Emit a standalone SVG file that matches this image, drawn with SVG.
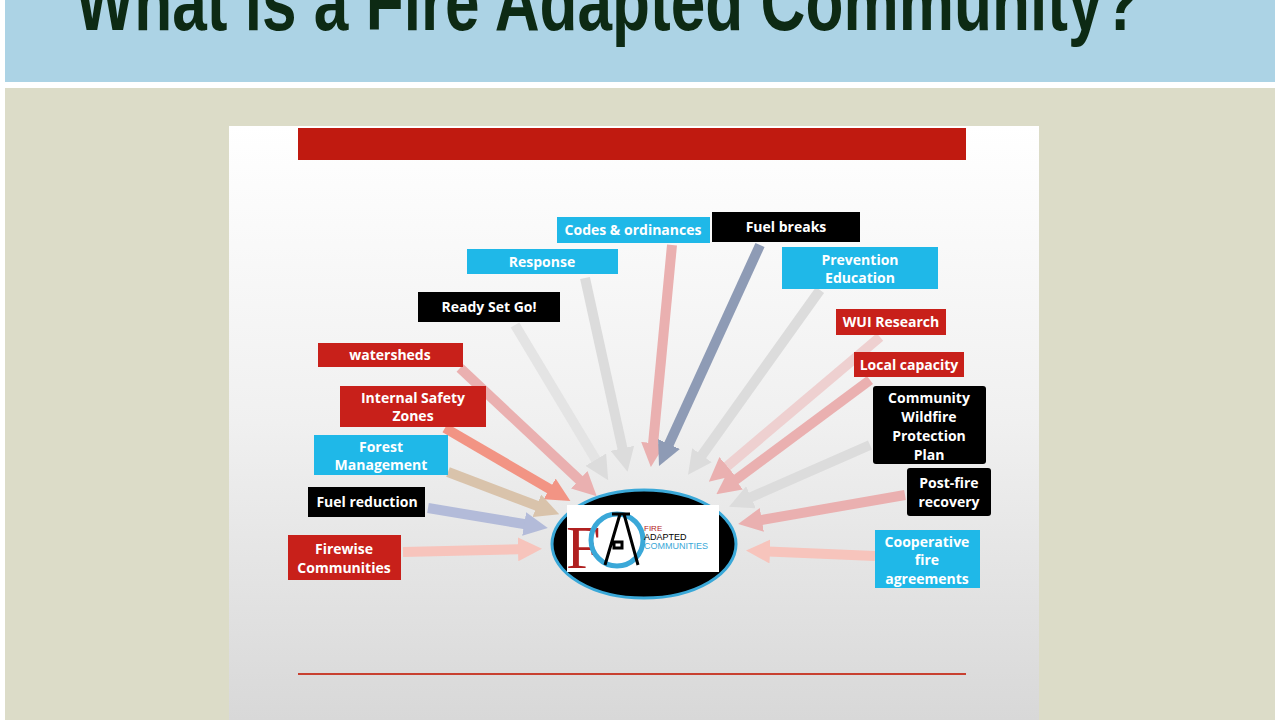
<svg xmlns="http://www.w3.org/2000/svg" width="1280" height="720" viewBox="0 0 1280 720">
<defs>
<linearGradient id="pg" x1="0" y1="0" x2="0" y2="1"><stop offset="0" stop-color="#ffffff"/><stop offset="0.5" stop-color="#f0f0f0"/><stop offset="1" stop-color="#d8d8d8"/></linearGradient>
<marker id="m1" viewBox="0 0 10 10" refX="5" refY="5" markerWidth="2.4" markerHeight="2.4" orient="auto"><path d="M0,0L10,5L0,10z" fill="#eab0b0"/></marker>
<marker id="m2" viewBox="0 0 10 10" refX="5" refY="5" markerWidth="2.4" markerHeight="2.4" orient="auto"><path d="M0,0L10,5L0,10z" fill="#8e9bb5"/></marker>
<marker id="m3" viewBox="0 0 10 10" refX="5" refY="5" markerWidth="2.4" markerHeight="2.4" orient="auto"><path d="M0,0L10,5L0,10z" fill="#dcdcdc"/></marker>
<marker id="m4" viewBox="0 0 10 10" refX="5" refY="5" markerWidth="2.4" markerHeight="2.4" orient="auto"><path d="M0,0L10,5L0,10z" fill="#f29484"/></marker>
<marker id="m5" viewBox="0 0 10 10" refX="5" refY="5" markerWidth="2.4" markerHeight="2.4" orient="auto"><path d="M0,0L10,5L0,10z" fill="#d9c3ab"/></marker>
<marker id="m6" viewBox="0 0 10 10" refX="5" refY="5" markerWidth="2.4" markerHeight="2.4" orient="auto"><path d="M0,0L10,5L0,10z" fill="#b3bbd9"/></marker>
<marker id="m7" viewBox="0 0 10 10" refX="5" refY="5" markerWidth="2.4" markerHeight="2.4" orient="auto"><path d="M0,0L10,5L0,10z" fill="#f7c4bc"/></marker>
</defs>
<style>
.t{font-family:"Open Sans","Liberation Sans",sans-serif;font-weight:bold;font-size:14px;fill:#fff;text-anchor:middle}
.cy{fill:#1fb8e8}.bk{fill:#000}.rd{fill:#c8201a}
.a{stroke-width:10;fill:none}
</style>
<rect width="1280" height="720" fill="#ffffff"/>
<rect x="5" y="0" width="1270" height="82" fill="#acd3e5"/>
<rect x="5" y="88" width="1270" height="632" fill="#dcdcc8"/>
<text x="608" y="30" font-family="'Liberation Sans',sans-serif" font-weight="bold" font-size="82" fill="#0d2a14" text-anchor="middle" textLength="1065" lengthAdjust="spacingAndGlyphs">What is a Fire Adapted Community?</text>
<rect x="229" y="126" width="810" height="594" fill="url(#pg)"/>
<rect x="298" y="128" width="668" height="32" fill="#c01a10"/>
<rect x="298" y="673" width="668" height="2" fill="#c84030"/>
<g id="connectors">
<line class="a" x1="672" y1="245" x2="652" y2="455" stroke="#eab0b0" marker-end="url(#m1)"/>
<line class="a" x1="760" y1="245" x2="664" y2="455" stroke="#8e9bb5" marker-end="url(#m2)"/>
<line class="a" x1="585" y1="278" x2="625" y2="460" stroke="#dcdcdc" marker-end="url(#m3)"/>
<line class="a" x1="820" y1="290" x2="695" y2="465" stroke="#dcdcdc" marker-end="url(#m3)"/>
<line class="a" x1="515" y1="325" x2="602" y2="470" stroke="#e4e4e4" marker-end="url(#m3)"/>
<line class="a" x1="880" y1="337" x2="718" y2="474" stroke="#eed0d0" marker-end="url(#m1)"/>
<line class="a" x1="460" y1="368" x2="588" y2="488" stroke="#eab0b0" marker-end="url(#m1)"/>
<line class="a" x1="870" y1="380" x2="726" y2="487" stroke="#eab0b0" marker-end="url(#m1)"/>
<line class="a" x1="445" y1="428" x2="560" y2="495" stroke="#f29484" marker-end="url(#m4)"/>
<line class="a" x1="870" y1="445" x2="740" y2="502" stroke="#dcdcdc" marker-end="url(#m3)"/>
<line class="a" x1="448" y1="472" x2="548" y2="510" stroke="#d9c3ab" marker-end="url(#m5)"/>
<line class="a" x1="905" y1="495" x2="750" y2="522" stroke="#eab0b0" marker-end="url(#m1)"/>
<line class="a" x1="428" y1="508" x2="536" y2="526" stroke="#b3bbd9" marker-end="url(#m6)"/>
<line class="a" x1="403" y1="552" x2="530" y2="549" stroke="#f7c4bc" marker-end="url(#m7)"/>
<line class="a" x1="875" y1="556" x2="758" y2="551" stroke="#f7c4bc" marker-end="url(#m7)"/>
</g>
<g id="center">
<ellipse cx="644" cy="544" rx="92" ry="54" fill="#000" stroke="#3aa8d8" stroke-width="3"/>
<rect x="567" y="505" width="152" height="67" fill="#fff"/>
<text x="566" y="568" font-family="'Liberation Serif',serif" font-size="62" fill="#b02020">F</text>
<circle cx="617" cy="540" r="26" fill="none" stroke="#3aa8d8" stroke-width="5"/>
<path d="M612,514 L630,514 M620,514 L605,565 M624,514 L638,565 M614,548 h8 v-6 h-8z" stroke="#000" stroke-width="3" fill="none"/>
<text x="644" y="531" font-family="'Liberation Sans',sans-serif" font-size="8" fill="#b02020">FIRE</text>
<text x="644" y="540" font-family="'Liberation Sans',sans-serif" font-size="9" fill="#000">ADAPTED</text>
<text x="644" y="549" font-family="'Liberation Sans',sans-serif" font-size="9" fill="#3aa8d8">COMMUNITIES</text>
</g>
<g id="n1"><rect class="cy" x="557" y="217" width="153" height="26"/><text class="t" x="633" y="235">Codes &amp; ordinances</text></g>
<g id="n2"><rect class="bk" x="712" y="212" width="148" height="30"/><text class="t" x="786" y="232">Fuel breaks</text></g>
<g id="n3"><rect class="cy" x="467" y="249" width="151" height="25"/><text class="t" x="542" y="267">Response</text></g>
<g id="n4"><rect class="cy" x="782" y="247" width="156" height="42"/><text class="t" x="860" y="265">Prevention</text><text class="t" x="860" y="283">Education</text></g>
<g id="n5"><rect class="bk" x="418" y="292" width="142" height="30"/><text class="t" x="489" y="312">Ready Set Go!</text></g>
<g id="n6"><rect class="rd" x="836" y="309" width="110" height="26"/><text class="t" x="891" y="327">WUI Research</text></g>
<g id="n7"><rect class="rd" x="318" y="343" width="145" height="24"/><text class="t" x="390" y="360">watersheds</text></g>
<g id="n8"><rect class="rd" x="854" y="352" width="110" height="25"/><text class="t" x="909" y="370">Local capacity</text></g>
<g id="n9"><rect class="rd" x="340" y="386" width="146" height="41"/><text class="t" x="413" y="403">Internal Safety</text><text class="t" x="413" y="421">Zones</text></g>
<g id="n10"><rect class="bk" x="873" y="386" width="113" height="78" rx="3"/><text class="t" x="929" y="403">Community</text><text class="t" x="929" y="422">Wildfire</text><text class="t" x="929" y="441">Protection</text><text class="t" x="929" y="460">Plan</text></g>
<g id="n11"><rect class="cy" x="314" y="435" width="134" height="40"/><text class="t" x="381" y="452">Forest</text><text class="t" x="381" y="470">Management</text></g>
<g id="n12"><rect class="bk" x="907" y="468" width="84" height="48" rx="3"/><text class="t" x="949" y="488">Post-fire</text><text class="t" x="949" y="507">recovery</text></g>
<g id="n13"><rect class="bk" x="308" y="487" width="117" height="30"/><text class="t" x="367" y="507">Fuel reduction</text></g>
<g id="n14"><rect class="rd" x="288" y="535" width="113" height="45"/><text class="t" x="344" y="554">Firewise</text><text class="t" x="344" y="573">Communities</text></g>
<g id="n15"><rect class="cy" x="875" y="530" width="105" height="58"/><text class="t" x="927" y="547">Cooperative</text><text class="t" x="927" y="565">fire</text><text class="t" x="927" y="584">agreements</text></g>
</svg>
